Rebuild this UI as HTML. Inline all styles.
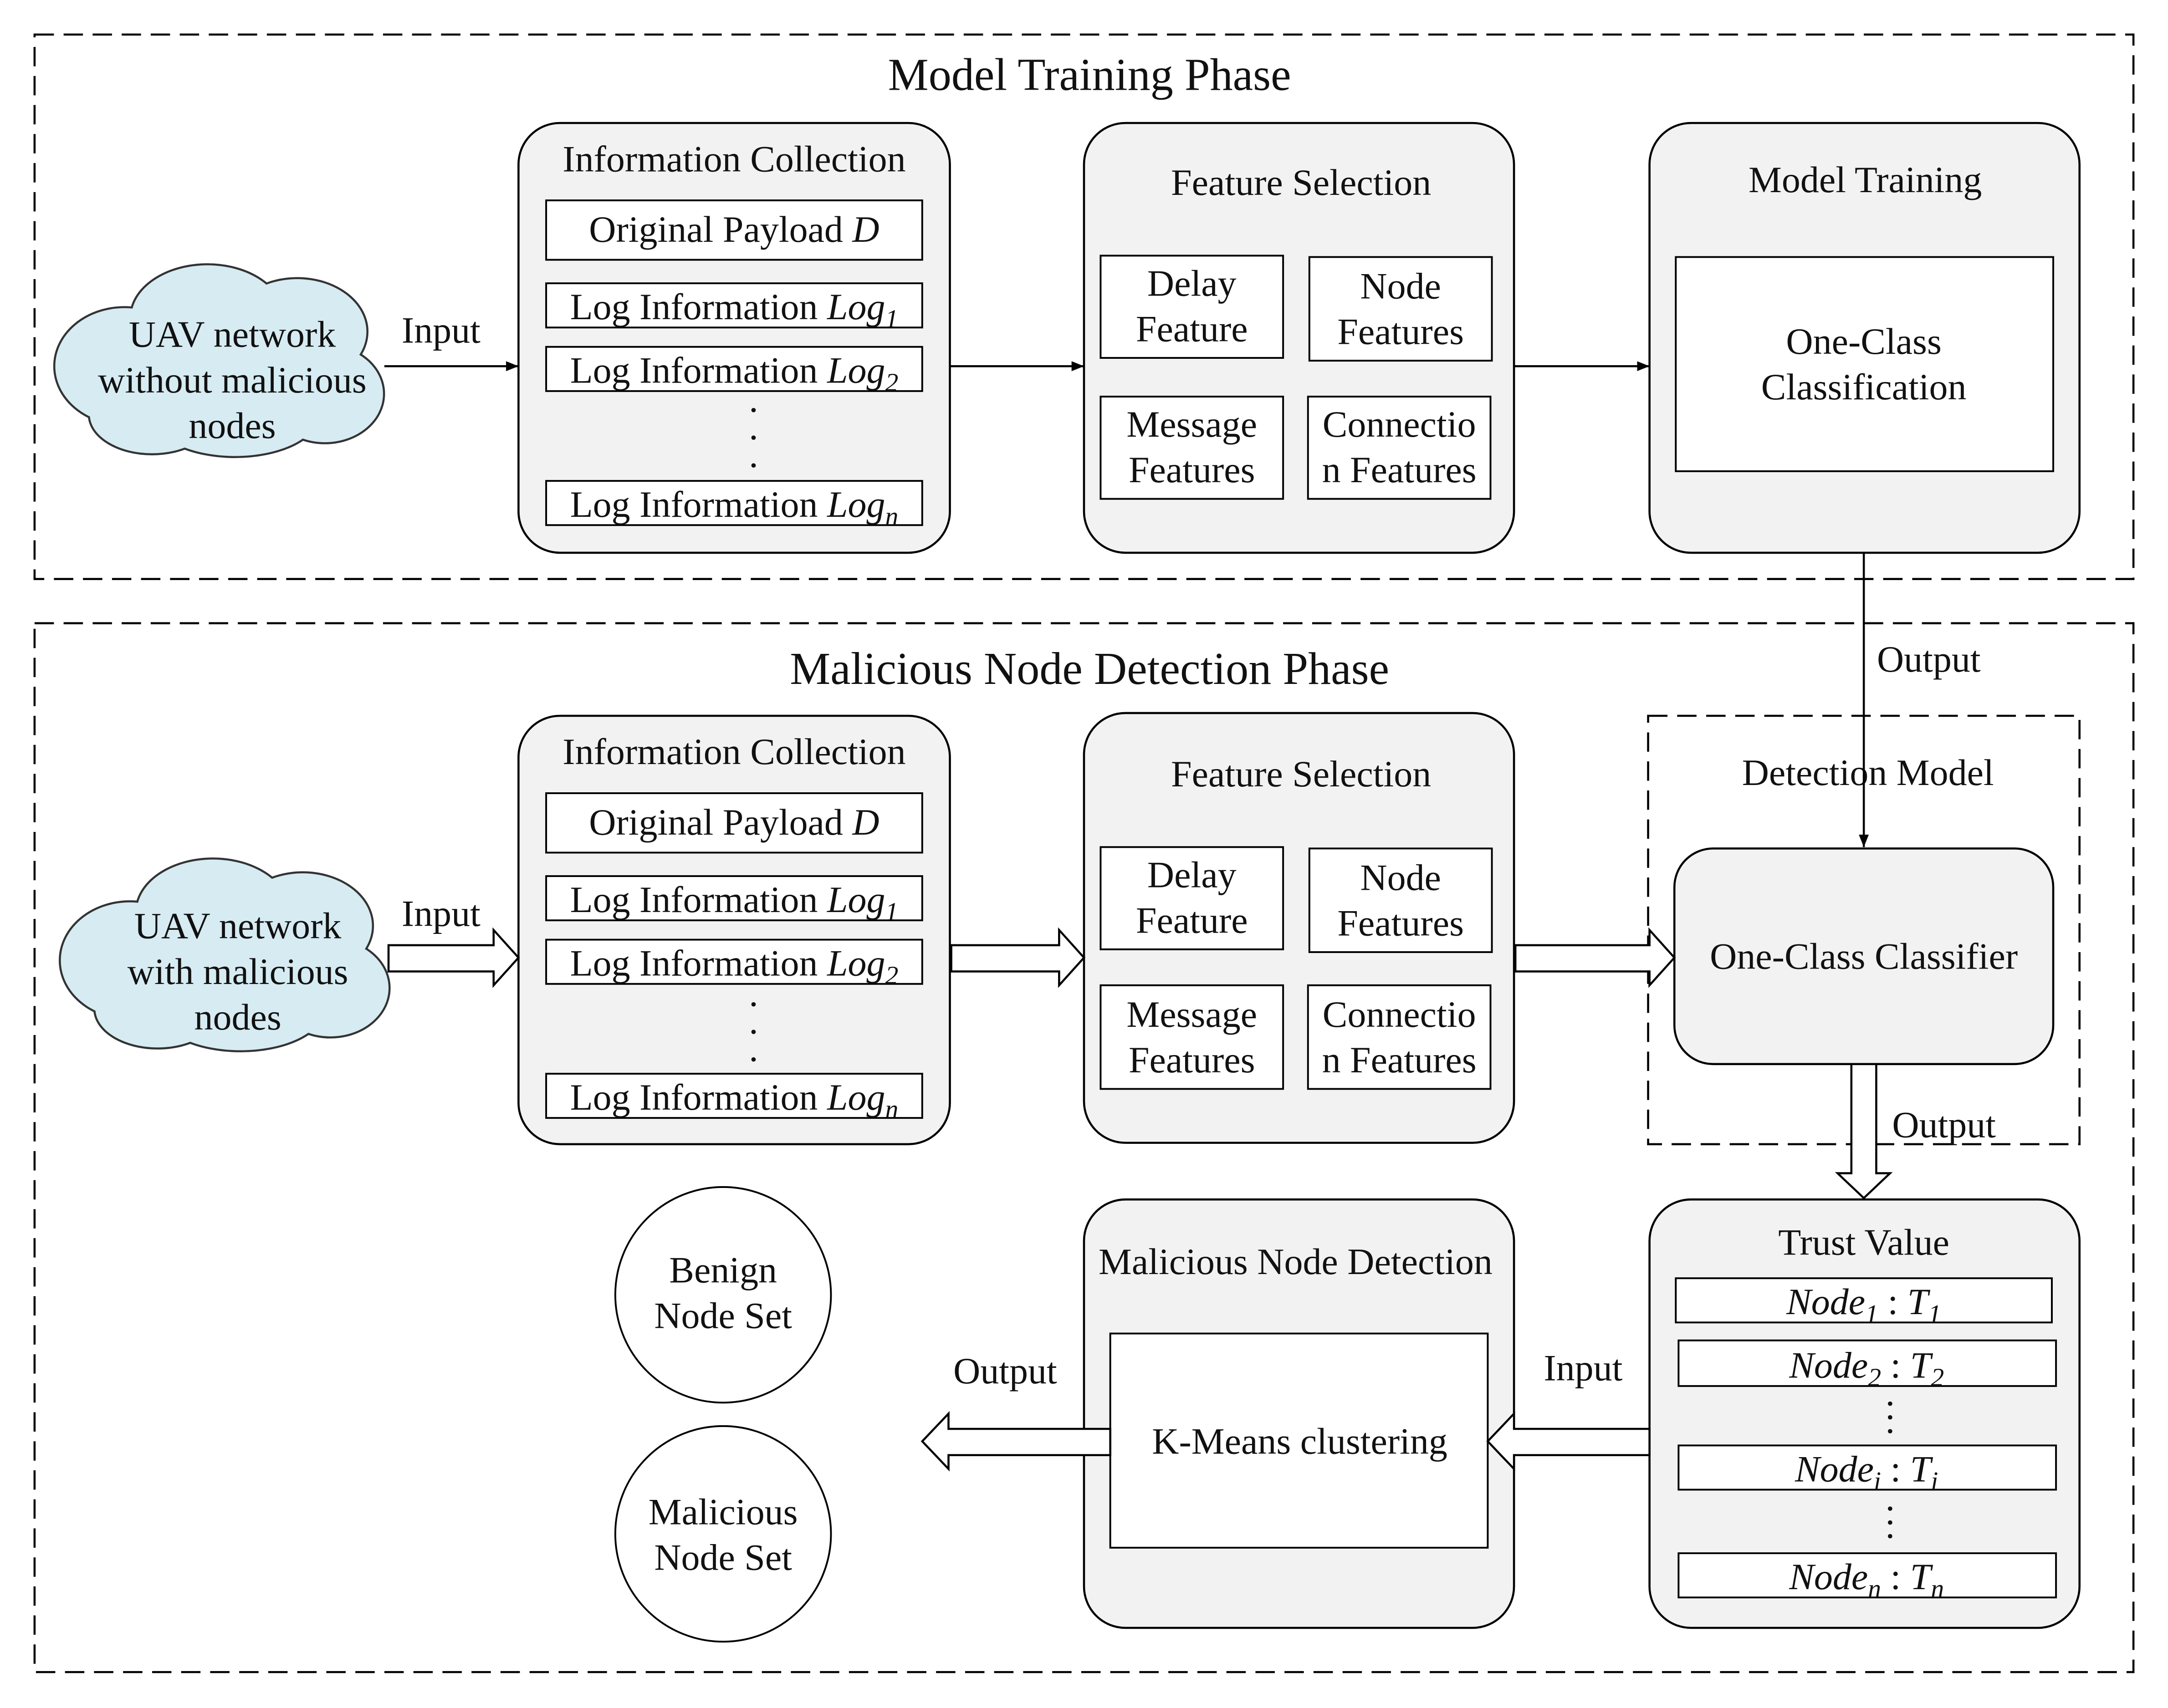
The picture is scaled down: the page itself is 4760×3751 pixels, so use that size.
<!DOCTYPE html>
<html><head><meta charset="utf-8"><style>
html,body{margin:0;padding:0;background:#fff;}
svg{display:block;}
text{font-family:"Liberation Serif",serif;fill:#111;}
</style></head><body>
<svg width="4760" height="3751" viewBox="0 0 1568 1236" preserveAspectRatio="none" xmlns="http://www.w3.org/2000/svg">
<defs>
<marker id="ah" viewBox="0 0 10 10" refX="10" refY="5" markerWidth="9" markerHeight="9" markerUnits="userSpaceOnUse" orient="auto"><path d="M0,1 L10,5 L0,9 z" fill="#000"/></marker>
</defs>
<g fill="none" stroke="#000" stroke-width="1.5">
<rect x="25" y="25" width="1518" height="394" stroke-dasharray="14,7"/>
<rect x="25" y="451" width="1518" height="759" stroke-dasharray="14,7"/>
<rect x="1192" y="518" width="312" height="310" stroke-dasharray="14,7"/>
</g>
<g font-size="33" text-anchor="middle">
<text x="788" y="65">Model Training Phase</text>
<text x="788" y="495">Malicious Node Detection Phase</text>
</g>

<!-- clouds -->
<g id="cloud1">
<g fill="none" stroke="#333" stroke-width="3">
<ellipse cx="90" cy="265" rx="50" ry="42"/><ellipse cx="150" cy="230" rx="55" ry="38"/><ellipse cx="215" cy="240" rx="50" ry="38"/><ellipse cx="235" cy="285" rx="42" ry="35"/><ellipse cx="170" cy="300" rx="60" ry="30"/><ellipse cx="110" cy="300" rx="45" ry="28"/>
</g>
<g fill="#d6ebf2">
<ellipse cx="90" cy="265" rx="50" ry="42"/><ellipse cx="150" cy="230" rx="55" ry="38"/><ellipse cx="215" cy="240" rx="50" ry="38"/><ellipse cx="235" cy="285" rx="42" ry="35"/><ellipse cx="170" cy="300" rx="60" ry="30"/><ellipse cx="110" cy="300" rx="45" ry="28"/><ellipse cx="160" cy="265" rx="90" ry="45"/>
</g>
</g>
<use href="#cloud1" transform="translate(4,430)"/>
<g font-size="27" text-anchor="middle">
<text x="168" y="251">UAV network</text><text x="168" y="284">without malicious</text><text x="168" y="317">nodes</text>
<text x="172" y="679">UAV network</text><text x="172" y="712">with malicious</text><text x="172" y="745">nodes</text>
</g>

<!-- rounded grey boxes -->
<g fill="#f2f2f2" stroke="#000" stroke-width="1.5">
<rect x="375" y="89" width="312" height="311" rx="30"/>
<rect x="784" y="89" width="311" height="311" rx="30"/>
<rect x="1193" y="89" width="311" height="311" rx="30"/>
<rect x="375" y="518" width="312" height="310" rx="30"/>
<rect x="784" y="516" width="311" height="311" rx="30"/>
<rect x="1211" y="614" width="274" height="156" rx="28"/>
<rect x="1193" y="868" width="311" height="310" rx="30"/>
<rect x="784" y="868" width="311" height="310" rx="30"/>
</g>
<g fill="#fff" stroke="#000" stroke-width="1.3">
<rect x="395" y="145" width="272" height="43"/>
<rect x="395" y="205" width="272" height="32"/>
<rect x="395" y="251" width="272" height="32"/>
<rect x="395" y="348" width="272" height="32"/>
<rect x="796" y="185" width="132" height="74"/>
<rect x="947" y="186" width="132" height="75"/>
<rect x="796" y="287" width="132" height="74"/>
<rect x="946" y="287" width="132" height="74"/>
<rect x="1212" y="186" width="273" height="155"/>
<rect x="395" y="574" width="272" height="43"/>
<rect x="395" y="634" width="272" height="32"/>
<rect x="395" y="680" width="272" height="32"/>
<rect x="395" y="777" width="272" height="32"/>
<rect x="796" y="613" width="132" height="74"/>
<rect x="947" y="614" width="132" height="75"/>
<rect x="796" y="713" width="132" height="75"/>
<rect x="946" y="713" width="132" height="75"/>
<rect x="1212" y="925" width="272" height="32"/>
<rect x="1214" y="970" width="273" height="33"/>
<rect x="1214" y="1046" width="273" height="32"/>
<rect x="1214" y="1124" width="273" height="32"/>
<rect x="803" y="965" width="273" height="155"/>
<circle cx="523" cy="937" r="78"/>
<circle cx="523" cy="1110" r="78"/>
</g>

<g font-size="27" text-anchor="middle">
<text x="531" y="124">Information Collection</text>
<text x="531" y="175">Original Payload <tspan font-style="italic">D</tspan></text>
<text x="531" y="231">Log Information <tspan font-style="italic">Log<tspan font-size="19" dy="6">1</tspan></tspan></text>
<text x="531" y="277">Log Information <tspan font-style="italic">Log<tspan font-size="19" dy="6">2</tspan></tspan></text>
<text x="531" y="374">Log Information <tspan font-style="italic">Log<tspan font-size="19" dy="6">n</tspan></tspan></text>
<text x="545" y="298">.</text><text x="545" y="318">.</text><text x="545" y="338">.</text>
<text x="941" y="141">Feature Selection</text>
<text x="862" y="214">Delay</text><text x="862" y="247">Feature</text>
<text x="1013" y="216">Node</text><text x="1013" y="249">Features</text>
<text x="862" y="316">Message</text><text x="862" y="349">Features</text>
<text x="1012" y="316">Connectio</text><text x="1012" y="349">n Features</text>
<text x="1349" y="139">Model Training</text>
<text x="1348" y="256">One-Class</text><text x="1348" y="289">Classification</text>

<text x="531" y="553">Information Collection</text>
<text x="531" y="604">Original Payload <tspan font-style="italic">D</tspan></text>
<text x="531" y="660">Log Information <tspan font-style="italic">Log<tspan font-size="19" dy="6">1</tspan></tspan></text>
<text x="531" y="706">Log Information <tspan font-style="italic">Log<tspan font-size="19" dy="6">2</tspan></tspan></text>
<text x="531" y="803">Log Information <tspan font-style="italic">Log<tspan font-size="19" dy="6">n</tspan></tspan></text>
<text x="545" y="728">.</text><text x="545" y="748">.</text><text x="545" y="768">.</text>
<text x="941" y="569">Feature Selection</text>
<text x="862" y="642">Delay</text><text x="862" y="675">Feature</text>
<text x="1013" y="644">Node</text><text x="1013" y="677">Features</text>
<text x="862" y="743">Message</text><text x="862" y="776">Features</text>
<text x="1012" y="743">Connectio</text><text x="1012" y="776">n Features</text>
<text x="1351" y="568">Detection Model</text>
<text x="1348" y="701">One-Class Classifier</text>

<text x="1348" y="908">Trust Value</text>
<text x="1348" y="951"><tspan font-style="italic">Node<tspan font-size="19" dy="6">1</tspan></tspan><tspan dy="-6"> : </tspan><tspan font-style="italic">T<tspan font-size="19" dy="6">1</tspan></tspan></text>
<text x="1350" y="997"><tspan font-style="italic">Node<tspan font-size="19" dy="6">2</tspan></tspan><tspan dy="-6"> : </tspan><tspan font-style="italic">T<tspan font-size="19" dy="6">2</tspan></tspan></text>
<text x="1350" y="1072"><tspan font-style="italic">Node<tspan font-size="19" dy="6">i</tspan></tspan><tspan dy="-6"> : </tspan><tspan font-style="italic">T<tspan font-size="19" dy="6">i</tspan></tspan></text>
<text x="1350" y="1150"><tspan font-style="italic">Node<tspan font-size="19" dy="6">n</tspan></tspan><tspan dy="-6"> : </tspan><tspan font-style="italic">T<tspan font-size="19" dy="6">n</tspan></tspan></text>
<text x="1367" y="1017">.</text><text x="1367" y="1027">.</text><text x="1367" y="1037">.</text>
<text x="1367" y="1093">.</text><text x="1367" y="1103">.</text><text x="1367" y="1113">.</text>
<text x="937" y="922">Malicious Node Detection</text>
<text x="940" y="1052">K-Means clustering</text>
<text x="523" y="928">Benign</text><text x="523" y="961">Node Set</text>
<text x="523" y="1103">Malicious</text><text x="523" y="1136">Node Set</text>

<text x="319" y="248">Input</text>
<text x="319" y="670">Input</text>
<text x="1395" y="486">Output</text>
<text x="1406" y="823">Output</text>
<text x="1145" y="999">Input</text>
<text x="727" y="1001">Output</text>
</g>

<!-- line arrows -->
<g stroke="#000" stroke-width="1.5" fill="none">
<line x1="278" y1="265" x2="375" y2="265" marker-end="url(#ah)"/>
<line x1="687" y1="265" x2="784" y2="265" marker-end="url(#ah)"/>
<line x1="1095" y1="265" x2="1193" y2="265" marker-end="url(#ah)"/>
<line x1="1348" y1="400" x2="1348" y2="613" marker-end="url(#ah)"/>
</g>
<!-- hollow arrows -->
<g fill="#fff" stroke="#000" stroke-width="1.5">
<polygon points="281,684 357,684 357,673 375,693 357,713 357,703 281,703"/>
<polygon points="688,684 766,684 766,673 784,693 766,713 766,703 688,703"/>
<polygon points="1096,684 1193,684 1193,673 1211,693 1193,713 1193,703 1096,703"/>
<polygon points="1339,770 1357,770 1357,849 1367,849 1348,867 1329,849 1339,849"/>
<polygon points="1193,1034 1095,1034 1095,1023 1076,1043 1095,1063 1095,1053 1193,1053"/>
<polygon points="803,1034 686,1034 686,1023 667,1043 686,1063 686,1053 803,1053"/>
</g>
</svg>
</body></html>
